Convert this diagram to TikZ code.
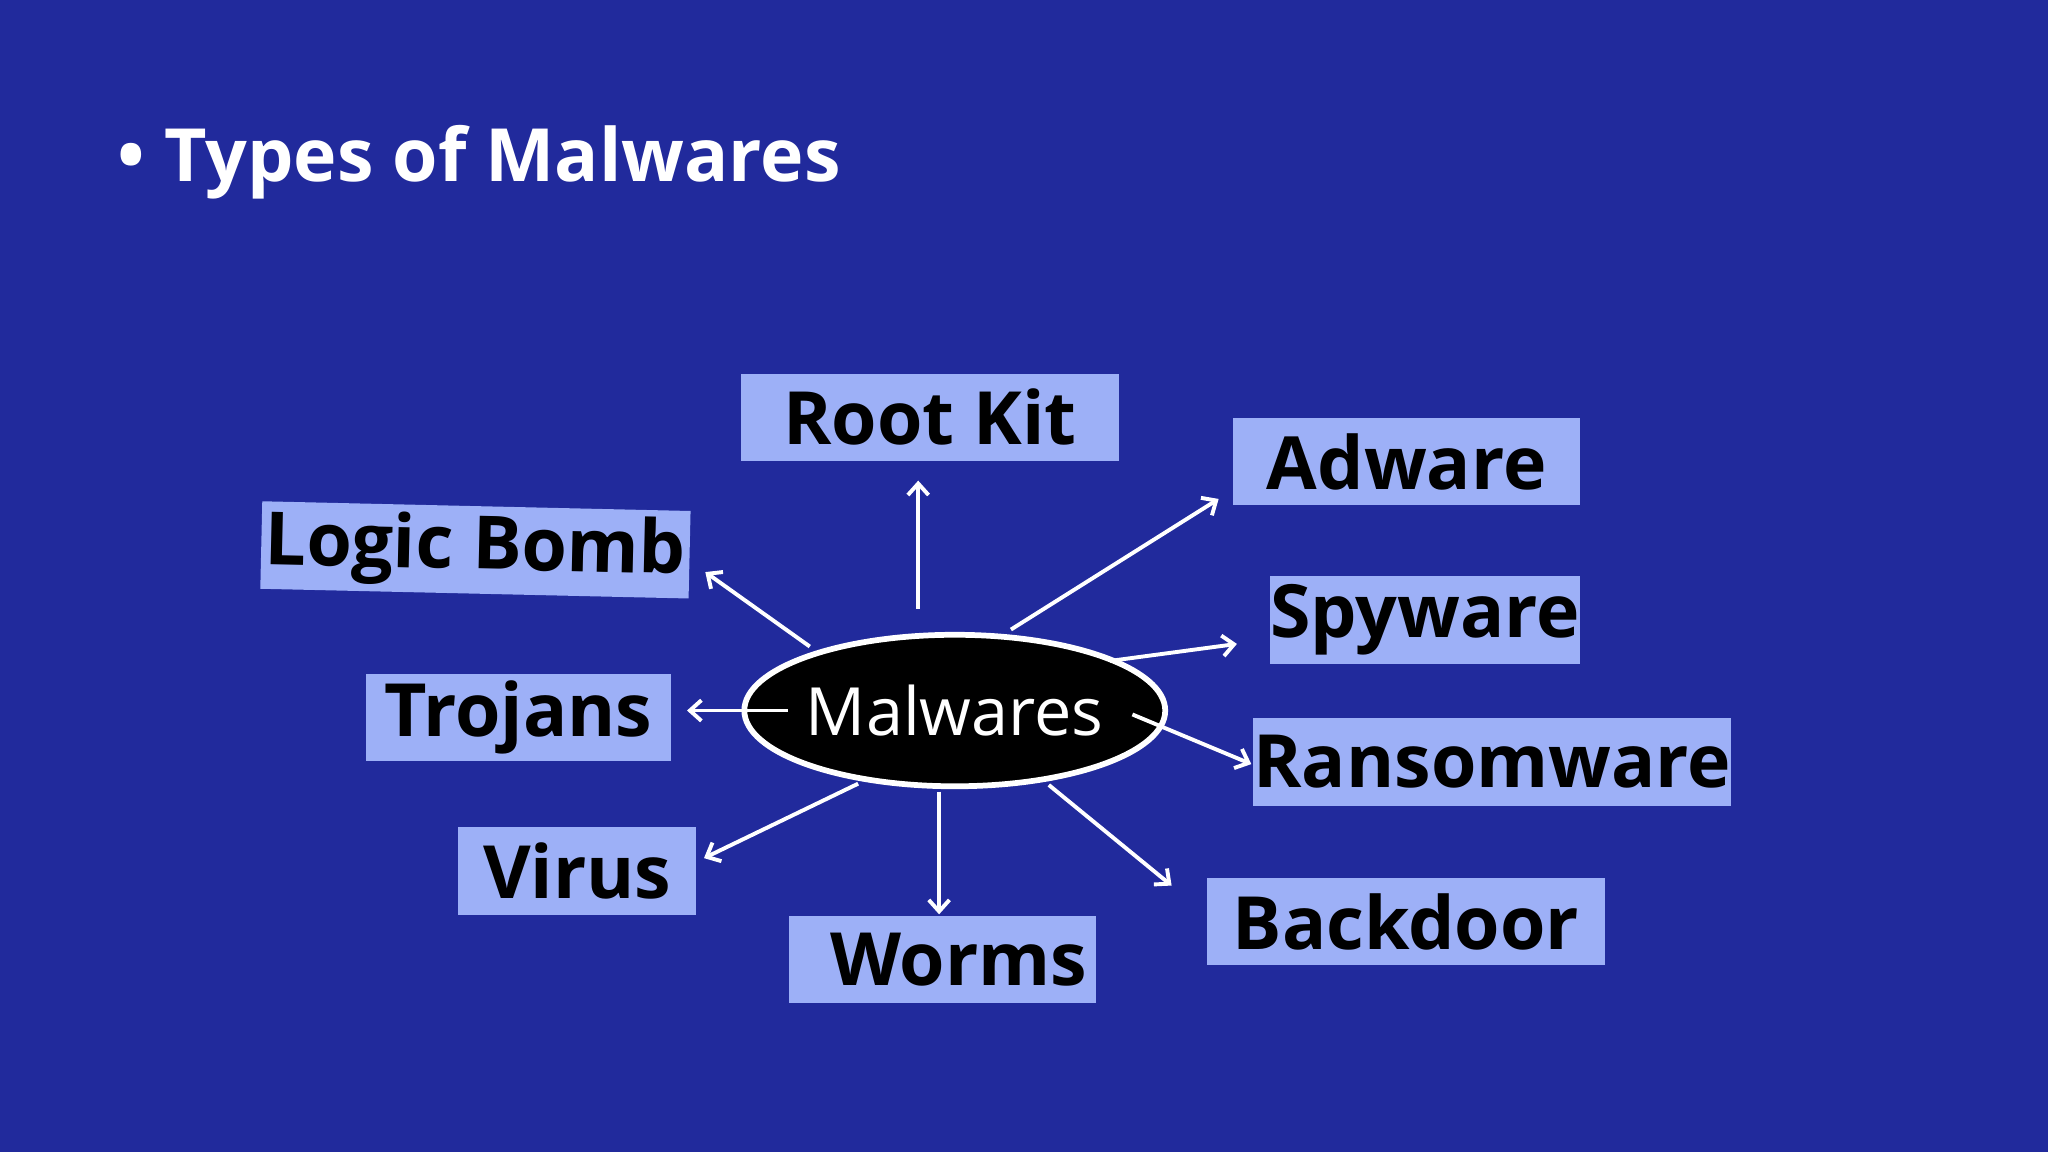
\documentclass[tikz,border=0pt]{standalone}
\usepackage{fontspec}
\setmainfont{Open Sans}
\usetikzlibrary{arrows.meta,shapes.geometric}
\definecolor{bg}{HTML}{212A9C}
\definecolor{boxc}{HTML}{9DB0F7}
\tikzset{
  mbox/.style={fill=boxc,inner sep=0pt,minimum height=67*0.02cm,font=\fontsize{32}{38}\selectfont\bfseries,text=black},
  arr/.style={draw=white,line width=1.7pt,-{Straight Barb[length=5pt,width=9pt]}}
}
\begin{document}
\begin{tikzpicture}[x=0.02cm,y=-0.02cm]
\fill[bg] (0,0) rectangle (1568,882);
\useasboundingbox (0,0) rectangle (1568,882);
\node[anchor=west,text=white,font=\fontsize{32}{38}\selectfont\bfseries] (title) at (84,124) {•\ Types of Malwares};
\node[mbox,minimum width=290*0.02cm] (rk) at (712,319.5) {Root Kit};
\node[mbox,minimum width=266*0.02cm] (ad) at (1077,353.5) {Adware};
\node[mbox,minimum width=328*0.02cm,rotate=-1.3] (lb) at (364,421) {Logic Bomb};
\node[mbox,minimum width=238*0.02cm] (sp) at (1091,474.5) {Spyware};
\node[mbox,minimum width=234*0.02cm] (tr) at (397,549.5) {Trojans};
\node[mbox,minimum width=361*0.02cm] (ra) at (1142.5,583.5) {Ransomware};
\node[mbox,minimum width=182*0.02cm] (vi) at (442,667) {Virus};
\node[mbox,minimum width=235*0.02cm] (wo) at (721.5,734.5) {\hspace{0.5cm}Worms};
\node[mbox,minimum width=305*0.02cm] (bd) at (1076.5,705.5) {Backdoor};
\node[ellipse,fill=black,draw=white,line width=2.5pt,minimum width=248*0.02cm,minimum height=116*0.02cm,inner sep=0pt,text=white,font=\fontsize{29}{34}\selectfont] (m) at (731,544) {Malwares};
\coordinate (s1) at (703,466); \coordinate (e1) at (703,368);
\coordinate (s2) at (774,482); \coordinate (e2) at (933,382);
\coordinate (s3) at (620,495); \coordinate (e3) at (540,438);
\coordinate (s4) at (850,506); \coordinate (e4) at (947,493);
\coordinate (s5) at (603,544); \coordinate (e5) at (526,544);
\coordinate (s6) at (867,547); \coordinate (e6) at (958,585);
\coordinate (s7) at (657,600); \coordinate (e7) at (539,657);
\coordinate (s8) at (719,606); \coordinate (e8) at (719,700);
\coordinate (s9) at (803,601); \coordinate (e9) at (897,678);
\foreach \i in {1,...,9}{\draw[arr] (s\i) -- (e\i);}
\end{tikzpicture}
\end{document}
